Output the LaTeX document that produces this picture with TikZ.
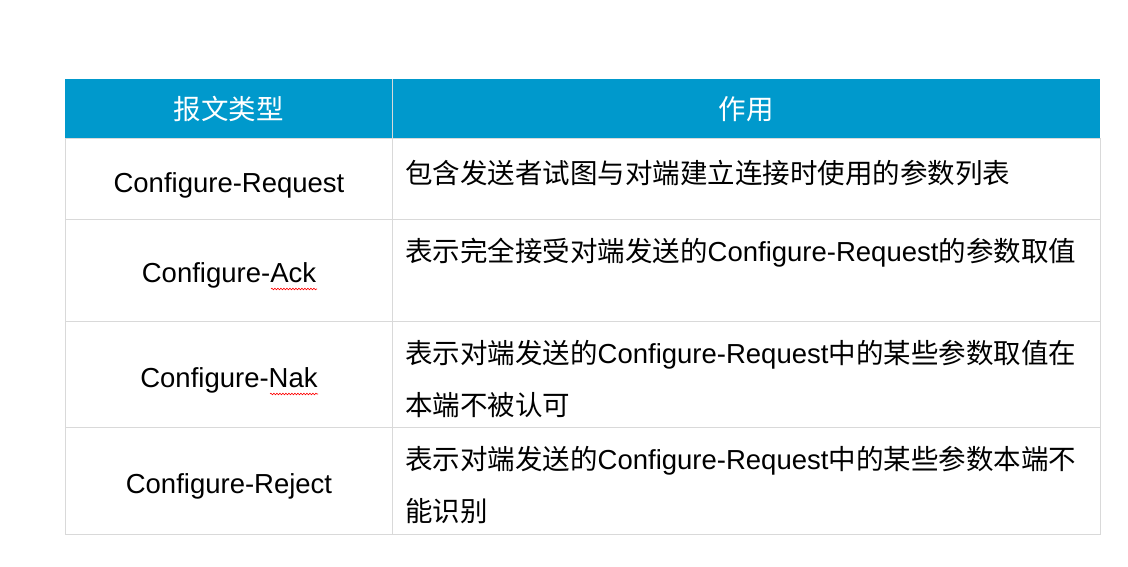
\documentclass[tikz,border=0pt]{standalone}
\usepackage{fontspec}
\setmainfont{Liberation Sans}
\newfontfamily\cjk{Noto Sans CJK SC}
\newcommand{\zh}[1]{{\cjk #1}}
\usetikzlibrary{decorations.pathmorphing}
\definecolor{hdr}{HTML}{0099CC}
\definecolor{grid}{HTML}{D9D9D9}
\tikzset{
  cell/.style={font=\fontsize{27.5}{32}\selectfont, text=black, inner sep=0pt},
  lcell/.style={cell, anchor=center},
  rcell/.style={cell, anchor=west},
  hcell/.style={cell, text=white, anchor=center},
  squig/.style={red, line width=0.6pt, decorate, decoration={snake, amplitude=0.8pt, segment length=3pt}}
}
\begin{document}
\begin{tikzpicture}[x=1pt,y=-1pt]
\useasboundingbox[fill=white] (0,0) rectangle (1128,567);
\fill[hdr] (65,79) rectangle (1100,138);
\draw[grid, line width=0.8pt] (65,138) rectangle (1100,534);
\foreach \yy in {219,321,427} \draw[grid, line width=0.8pt] (65,\yy) -- (1100,\yy);
\draw[grid, line width=0.8pt] (392,79) -- (392,534);
\node[hcell] (h1) at (228.5,109) {\zh{报文类型}};
\node[hcell] (h2) at (746,109) {\zh{作用}};
\node[lcell] (l1) at (229,185) {Configure-Request};
\node[lcell] (l2) at (229,275) {Configure-Ack};
\node[lcell] (l3) at (229,380) {Configure-Nak};
\node[lcell] (l4) at (229,486) {Configure-Reject};
\node[rcell] (r1) at (405,173) {\zh{包含发送者试图与对端建立连接时使用的参数列表}};
\node[rcell] (r2) at (405,253) {\zh{表示完全接受对端发送的}Configure-Request\zh{的参数取值}};
\node[rcell] (r3a) at (405,355) {\zh{表示对端发送的}Configure-Request\zh{中的某些参数取值在}};
\node[rcell] (r3b) at (405,405) {\zh{本端不被认可}};
\node[rcell] (r4a) at (405,461) {\zh{表示对端发送的}Configure-Request\zh{中的某些参数本端不}};
\node[rcell] (r4b) at (405,511) {\zh{能识别}};
\draw[squig] (271,289) -- (317,289);
\draw[squig] (270,394) -- (318,394);
\end{tikzpicture}
\end{document}
